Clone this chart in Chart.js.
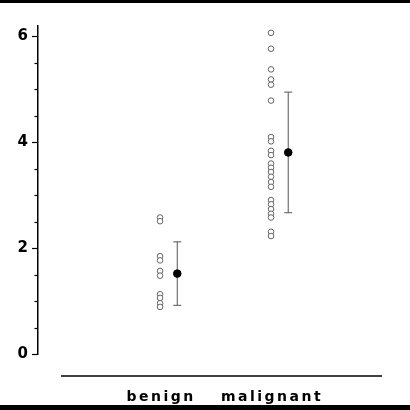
<!DOCTYPE html>
<html>
<head>
<meta charset="utf-8">
<script src="https://cdn.jsdelivr.net/npm/chart.js@4/dist/chart.umd.min.js"></script>
<style>
  html, body { margin: 0; padding: 0; background: #fff; }
  #wrap { width: 410px; height: 410px; position: relative; }
</style>
</head>
<body>
<div id="wrap"><canvas id="dotChart"></canvas></div>
<script>
// group names along the bottom
const categories = ['benign', 'malignant'];

// individual values
const benignValues = [2.58, 2.51, 1.85, 1.77, 1.57, 1.48, 1.13, 1.06, 0.96, 0.89];
const malignantValues = [
  6.07, 5.77, 5.38, 5.19, 5.09, 4.79, 4.10, 4.02, 3.84, 3.76, 3.60, 3.52,
  3.44, 3.35, 3.25, 3.16, 2.91, 2.83, 2.74, 2.65, 2.58, 2.31, 2.23
];

// mean and spread shown next to each group
const groupMeans = [1.52, 3.81];
const groupSpread = [0.60, 1.14];

// y axis
const yTickLabels = ['0', '2', '4', '6'];
const yMax = 6.2;

const ctx = document.getElementById('dotChart').getContext('2d');
const meanShift = 0.155;  // mean marker sits a bit right of the dots

function dots(values, idx) {
  return values.map(v => ({ x: idx, y: v }));
}

const errorSets = groupMeans.map((m, i) => ({
  type: 'line',
  data: [
    { x: i + meanShift, y: m - groupSpread[i] },
    { x: i + meanShift, y: m + groupSpread[i] }
  ],
  borderColor: '#555',
  borderWidth: 1,
  pointStyle: 'line',
  pointRadius: 4,
  pointBorderColor: '#555',
  pointBorderWidth: 1,
  showLine: true,
  order: 2
}));

// frame bars, minor ticks, baseline and group labels
const decor = {
  id: 'decor',
  beforeDraw(chart) {
    const c = chart.ctx;
    c.save();
    c.fillStyle = '#fff';
    c.fillRect(0, 0, chart.width, chart.height);
    c.restore();
  },
  afterDraw(chart) {
    const c = chart.ctx;
    const area = chart.chartArea;
    const y = chart.scales.y;
    const x = chart.scales.x;
    c.save();
    // minor ticks every 0.5
    c.strokeStyle = '#000';
    c.lineWidth = 1.2;
    for (let v = 0.5; v < 6.1; v += 0.5) {
      if (Math.abs(v % 2) < 0.01) continue;
      const py = Math.round(y.getPixelForValue(v)) + 0.5;
      c.beginPath();
      c.moveTo(area.left - 3.5, py);
      c.lineTo(area.left, py);
      c.stroke();
    }
    // baseline under the plot
    const by = area.bottom + 22;
    c.lineWidth = 1.5;
    c.beginPath();
    c.moveTo(area.left + 23, by);
    c.lineTo(area.right, by);
    c.stroke();
    // group labels
    c.fillStyle = '#000';
    c.font = 'bold 14px "DejaVu Sans", sans-serif';
    c.textAlign = 'center';
    c.textBaseline = 'alphabetic';
    c.letterSpacing = '2.5px';
    categories.forEach((name, i) => {
      c.fillText(name, x.getPixelForValue(i) + 1, area.bottom + 47);
    });
    c.letterSpacing = '0px';
    // black bars top and bottom
    c.fillStyle = '#000';
    c.fillRect(0, 0, chart.width, 3);
    c.fillRect(0, chart.height - 5, chart.width, 5);
    c.restore();
  }
};

new Chart(ctx, {
  type: 'scatter',
  data: {
    datasets: [
      {
        label: categories[0],
        data: dots(benignValues, 0),
        pointRadius: 2.8,
        pointBackgroundColor: '#fff',
        pointBorderColor: '#666',
        pointBorderWidth: 1,
        order: 3
      },
      {
        label: categories[1],
        data: dots(malignantValues, 1),
        pointRadius: 2.8,
        pointBackgroundColor: '#fff',
        pointBorderColor: '#666',
        pointBorderWidth: 1,
        order: 3
      },
      ...errorSets,
      {
        label: 'mean',
        data: groupMeans.map((m, i) => ({ x: i + meanShift, y: m })),
        pointRadius: 3.8,
        pointBackgroundColor: '#000',
        pointBorderColor: '#000',
        pointBorderWidth: 1,
        order: 1
      }
    ]
  },
  options: {
    responsive: true,
    maintainAspectRatio: false,
    animation: false,
    layout: { padding: { top: 26, left: 4, right: 28, bottom: 5 } },
    plugins: {
      legend: { display: false },
      tooltip: { enabled: false }
    },
    scales: {
      x: {
        type: 'linear',
        min: -1.1,
        max: 2.0,
        display: true,
        grid: { display: false, drawTicks: false },
        border: { display: false },
        ticks: { display: false },
        afterFit(scale) { scale.height = 51; }
      },
      y: {
        min: 0,
        max: yMax,
        grid: {
          drawOnChartArea: false,
          tickLength: 6,
          tickWidth: 1.2,
          tickColor: '#000'
        },
        border: { display: true, color: '#000', width: 1.5 },
        ticks: {
          stepSize: 2,
          includeBounds: false,
          padding: 4,
          color: '#000',
          font: { family: '"DejaVu Sans", sans-serif', size: 15, weight: 'bold' },
          callback: (v) => yTickLabels.includes(String(v)) ? String(v) : ''
        },
        afterFit(scale) { scale.width = 34; }
      }
    }
  },
  plugins: [decor]
});
</script>
</body>
</html>
